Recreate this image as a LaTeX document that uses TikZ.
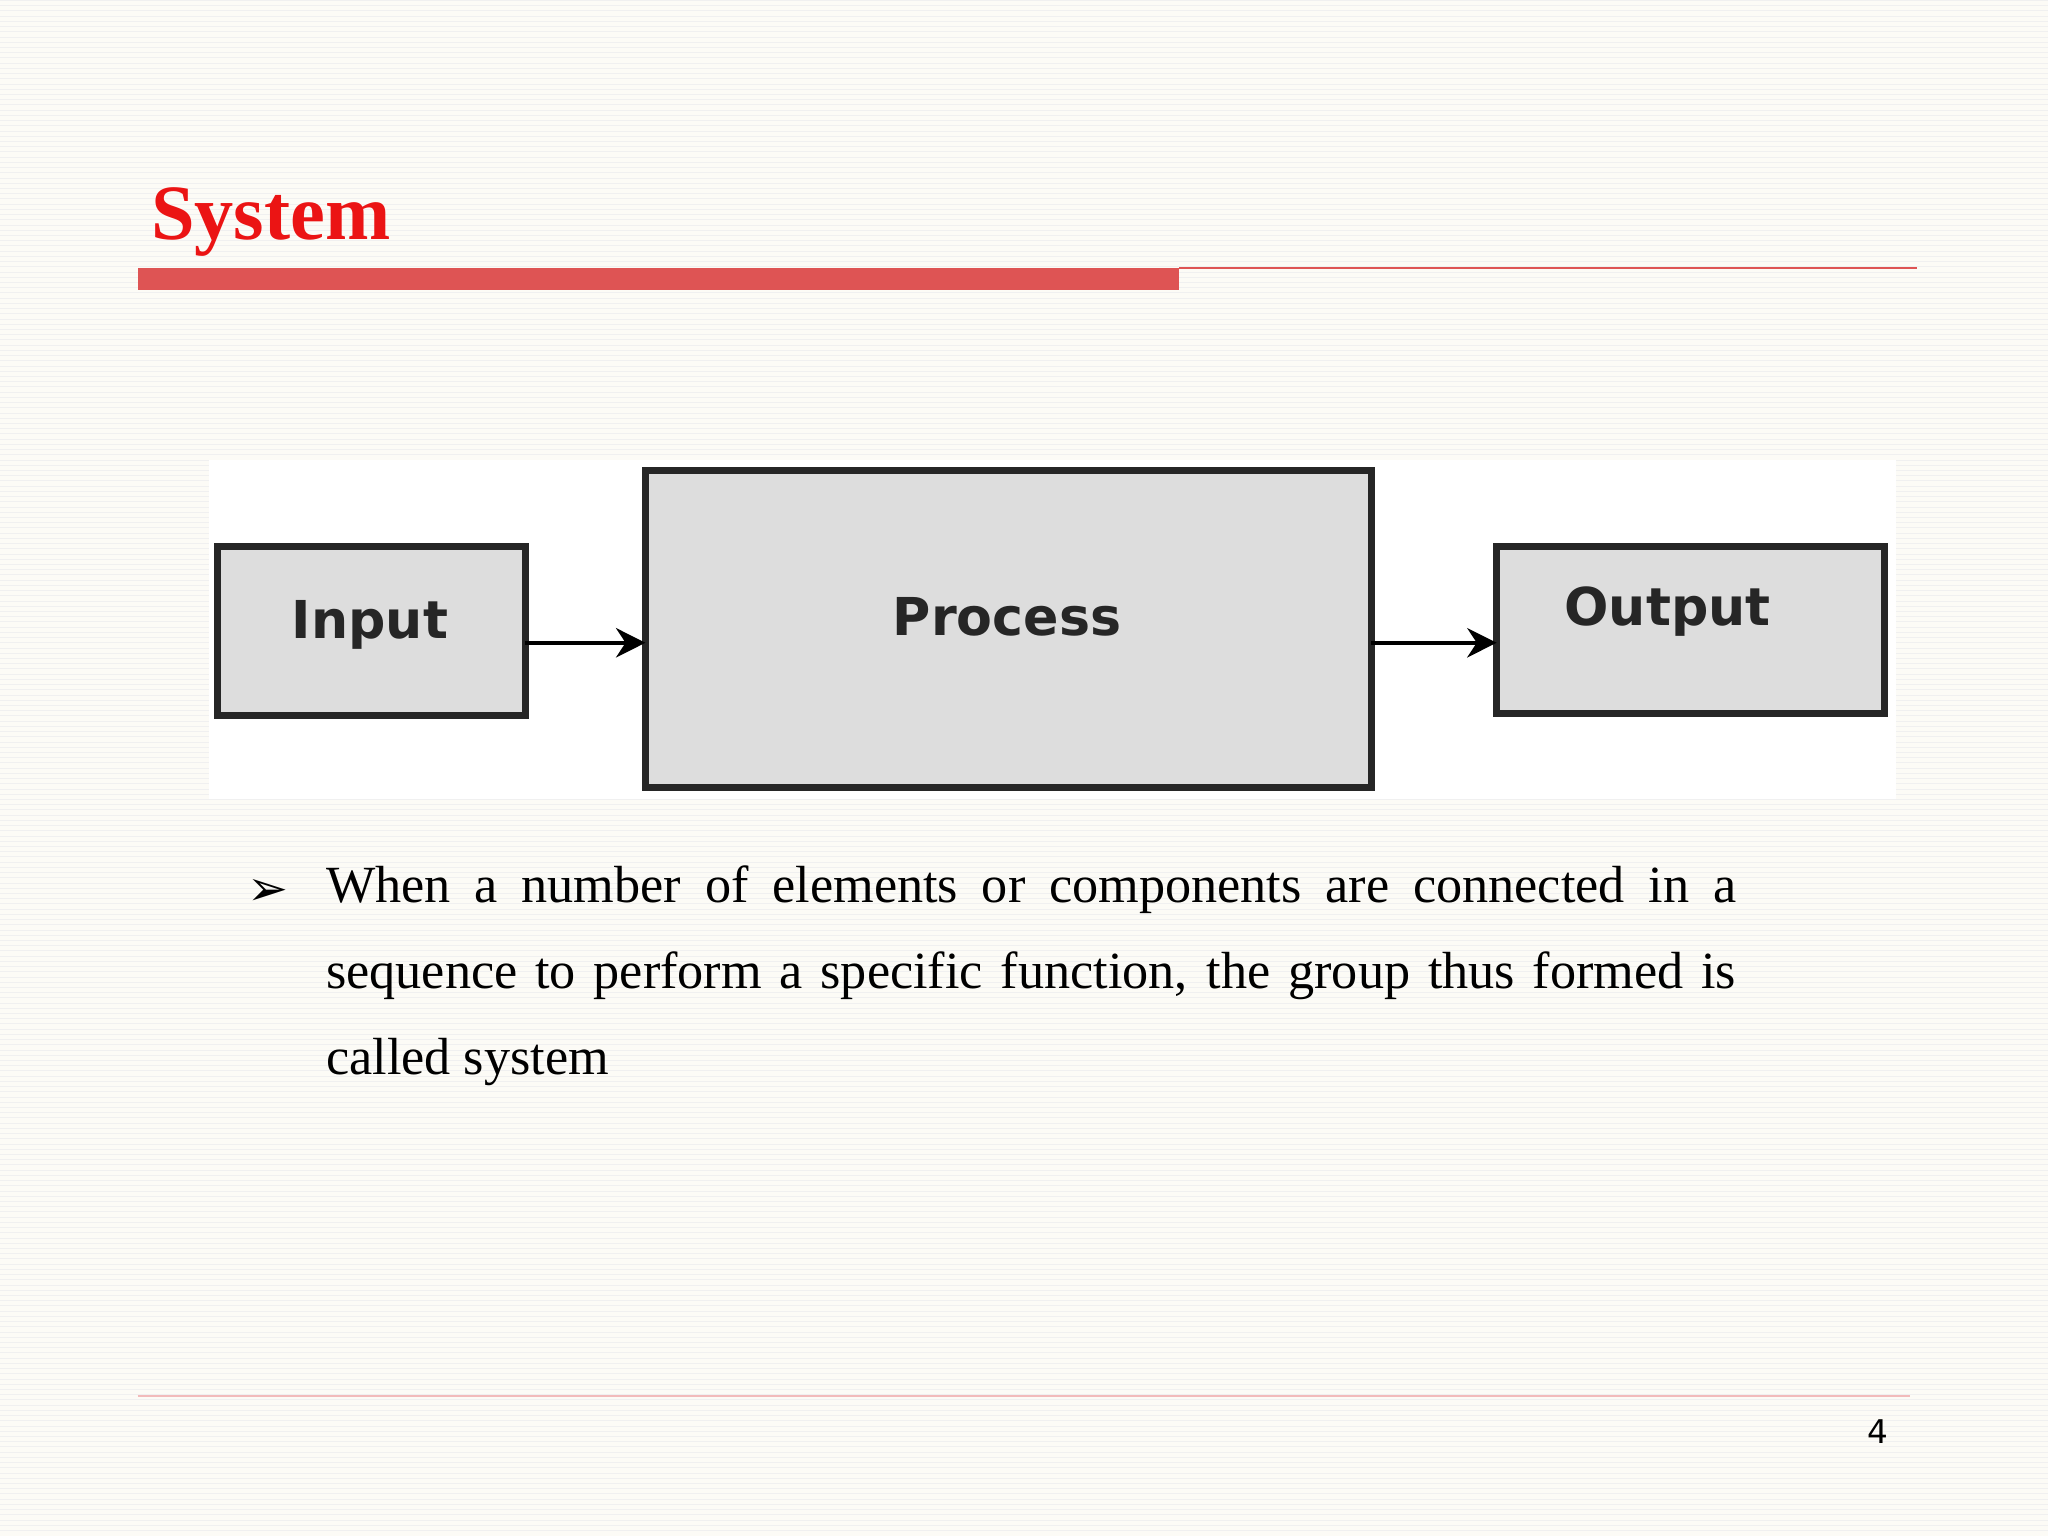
\documentclass[tikz,border=0pt]{standalone}
\usepackage{fontspec}
\setmainfont{Liberation Serif}
\setsansfont{DejaVu Sans}
\newfontfamily\symfont{DejaVu Sans}
\usetikzlibrary{arrows.meta}
\definecolor{bg}{RGB}{252,251,246}
\definecolor{titlered}{RGB}{235,20,20}
\definecolor{barred}{RGB}{222,84,84}
\definecolor{boxgray}{RGB}{221,221,221}
\tikzset{
 blk/.style={draw=black!85,line width=2.2pt,fill=boxgray},
 lbl/.style={font=\sffamily\bfseries\fontsize{16}{18}\selectfont,text=black!85},
 conn/.style={line width=1.2pt,-{Stealth[length=9pt,width=9pt]}}
}
\begin{document}
\begin{tikzpicture}[x=0.4pt,y=-0.4pt]
\fill[bg] (0,0) rectangle (1568,1176);
\foreach \k in {0,...,293}{\draw[black!6,line width=0.3pt] (0,\k*4) -- (1568,\k*4);}
\node[anchor=base west,text=titlered,font=\bfseries\fontsize{24}{27}\selectfont,inner sep=0] (title) at (115,183) {System};
\fill[barred] (105,205) rectangle (903,222);
\draw[barred,line width=0.5pt] (903,205) -- (1468,205);
\fill[white] (160,352) rectangle (1452,612);
\draw[blk] (166,418) rectangle (402,548);
\draw[blk] (494,360) rectangle (1050,603);
\draw[blk] (1146,418) rectangle (1443,546);
\node[lbl] (in) at (283,478) {Input};
\node[lbl] (pr) at (771,472) {Process};
\node[lbl] (out) at (1277,468) {Output};
\coordinate (a1) at (402,492); \coordinate (a2) at (494,492);
\coordinate (b1) at (1050,492); \coordinate (b2) at (1146,492);
\draw[conn] (a1) -- (a2);
\draw[conn] (b1) -- (b2);
\node[anchor=base,inner sep=0,font=\symfont\fontsize{15}{17}\selectfont] (bul) at (205,693) {➢};
\node[anchor=north west,inner sep=0,text width=432pt,align=justify,font=\fontsize{16}{26.4}\selectfont] (txt) at (249,662)
 {When a number of elements or components are connected in a\linebreak sequence to perform a specific function, the group thus formed is\linebreak called system};
\draw[barred!40,line width=0.6pt] (105,1069) -- (1463,1069);
\node[font=\sffamily\fontsize{10}{12}\selectfont] (pg) at (1438,1096) {4};
\end{tikzpicture}
\end{document}
